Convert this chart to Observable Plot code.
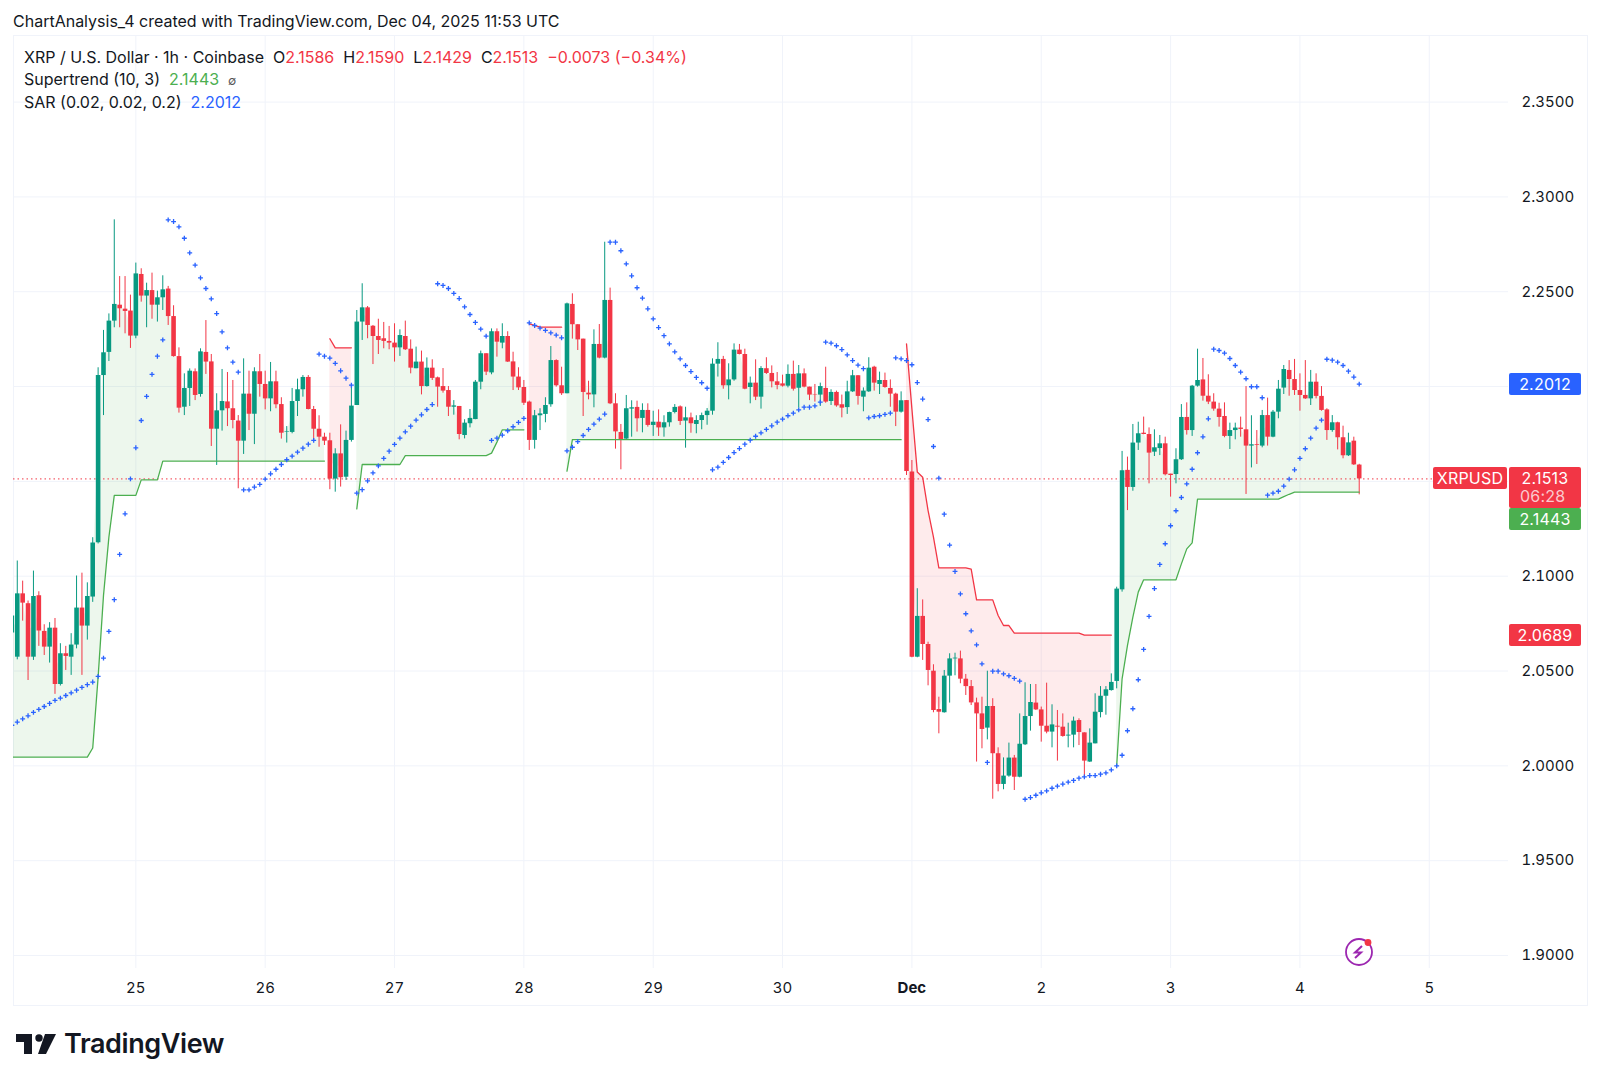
<!DOCTYPE html>
<html><head><meta charset="utf-8">
<script src="https://cdn.jsdelivr.net/npm/d3@7"></script>
<script src="https://cdn.jsdelivr.net/npm/@observablehq/plot@0.6"></script>
<style>
html,body{margin:0;background:#fff}
#page{position:relative;width:1600px;height:1084px;overflow:hidden;font-family:Inter,Roboto,sans-serif;color:#131722}
#frame{position:absolute;left:13px;top:35px;width:1573px;height:969px;border:1px solid #f0f3fa}
#chart{position:absolute;left:0;top:0}
.t{position:absolute;white-space:pre;font-size:16px;line-height:20px}
.tag{position:absolute;color:#fff;border-radius:2px;font-size:16px;line-height:22px;text-align:center;box-sizing:border-box;letter-spacing:.2px}
.logo{position:absolute;left:16px;top:1034px}
.wm{position:absolute;left:64px;top:1026px;font-size:27px;font-weight:600;line-height:36px;letter-spacing:-.4px;color:#131722}
.bolt{position:absolute;left:1343px;top:936px}
</style></head><body>
<div id="page">
<div id="frame"></div>
<div id="chart"></div>
<div class="t" style="left:13px;top:11px">ChartAnalysis_4 created with TradingView.com, Dec 04, 2025 11:53 UTC</div>
<div class="t" style="left:24px;top:47px">XRP / U.S. Dollar · 1h · Coinbase  O<span style="color:#f23645">2.1586</span>  H<span style="color:#f23645">2.1590</span>  L<span style="color:#f23645">2.1429</span>  C<span style="color:#f23645">2.1513</span>  <span style="color:#f23645">−0.0073 (−0.34%)</span></div>
<div class="t" style="left:24px;top:69px">Supertrend (10, 3)  <span style="color:#4caf50">2.1443</span>  <span style="color:#555;font-size:12px">∅</span></div>
<div class="t" style="left:24px;top:92px">SAR (0.02, 0.02, 0.2)  <span style="color:#2962ff">2.2012</span></div>
<svg class="logo" width="40" height="21" viewBox="0 0 40 21"><path d="M0 0H16V20H8V8H0Z M29 0H40L30 20H22Z" fill="#131722"/><circle cx="23" cy="4" r="3.7" fill="#131722"/></svg>
<div class="wm">TradingView</div>
<svg class="bolt" width="32" height="32" viewBox="0 0 32 32"><circle cx="16" cy="16" r="13" fill="#fff" stroke="#9c27b0" stroke-width="1.8"/><path d="M19 10L12 16.5H18L12 22" fill="none" stroke="#9c27b0" stroke-width="2"/><circle cx="25" cy="6.5" r="3.4" fill="#f23645"/></svg>
</div>
<script>
// Hourly candles, Nov 24 01:00 UTC to Dec 4 11:00 UTC
const firstHour = Date.UTC(2025, 10, 24, 1);
const open = [
2.0700,2.0573,2.0907,2.0855,2.0573,2.0897,2.0709,2.0626,2.0726,2.0429,2.0591,2.0573,2.0637,2.0832,2.0737,2.0890,2.1176,2.2058,2.2180,2.2345,2.2429,2.2408,2.2398,
2.2266,2.2591,2.2477,2.2506,2.2429,2.2468,2.2514,2.2369,2.2158,2.1891,2.1990,2.2078,2.1958,2.2180,2.2130,2.1775,2.1872,2.1919,2.1883,2.1818,2.1712,2.1960,2.1854,2.2078,
2.2011,2.1935,2.2025,2.1905,2.1760,2.1758,2.1921,2.1983,2.2048,2.1879,2.1775,2.1733,2.1714,2.1512,2.1645,2.1522,2.1716,2.1900,2.2340,2.2415,2.2318,2.2264,2.2252,2.2238,
2.2229,2.2204,2.2264,2.2197,2.2094,2.2129,2.2000,2.2097,2.2046,2.2000,2.1979,2.1891,2.1895,2.1742,2.1804,2.1826,2.2023,2.2173,2.2072,2.2289,2.2229,2.2264,2.2130,2.2050,
2.1995,2.1918,2.1716,2.1846,2.1853,2.1904,2.2137,2.2004,2.1962,2.2433,2.2326,2.2250,2.1965,2.1956,2.2222,2.2150,2.2454,2.1909,2.1758,2.1723,2.1881,2.1890,2.1832,2.1874,
2.1795,2.1812,2.1782,2.1809,2.1863,2.1893,2.1818,2.1835,2.1800,2.1821,2.1847,2.1870,2.2118,2.2143,2.2004,2.2035,2.2192,2.2169,2.1995,2.2018,2.1944,2.2094,2.2069,2.2025,
2.2014,2.2002,2.2064,2.1991,2.2067,2.1997,2.1958,2.1955,2.1990,2.1921,2.1969,2.1904,2.1889,2.1972,2.2057,2.1944,2.1972,2.2102,2.2011,2.2032,2.1990,2.1960,2.1865,2.1926,
2.1549,2.0573,2.0788,2.0640,2.0499,2.0297,2.0280,2.0473,2.0564,2.0564,2.0457,2.0418,2.0332,2.0274,2.0199,2.0313,2.0064,1.9902,1.9946,2.0041,1.9940,2.0111,2.0260,2.0331,
2.0295,2.0209,2.0178,2.0209,2.0204,2.0157,2.0162,2.0239,2.0174,2.0020,2.0116,2.0281,2.0367,2.0397,2.0445,2.0928,2.1558,2.1468,2.1702,2.1754,2.1747,2.1654,2.1673,2.1698,
2.1538,2.1536,2.1614,2.1837,2.1768,2.2002,2.2035,2.1949,2.1918,2.1881,2.1842,2.1737,2.1768,2.1781,2.1772,2.1686,2.1693,2.1686,2.1847,2.1733,2.1865,2.1992,2.2085,2.2037,
2.1979,2.1953,2.1935,2.2023,2.1948,2.1877,2.1768,2.1809,2.1730,2.1635,2.1712,2.1586];
const high = [
2.0800,2.1080,2.0974,2.0869,2.1027,2.0918,2.0744,2.0755,2.0777,2.0644,2.0630,2.0697,2.1001,2.1016,2.0965,2.1203,2.2099,2.2296,2.2383,2.2879,2.2580,2.2580,2.2482,
2.2651,2.2621,2.2545,2.2598,2.2503,2.2584,2.2528,2.2426,2.2204,2.2067,2.2093,2.2093,2.2199,2.2348,2.2169,2.1962,2.2090,2.2074,2.2032,2.1847,2.2146,2.2081,2.2099,2.2169,
2.2081,2.2127,2.2081,2.1941,2.1789,2.1990,2.2039,2.2058,2.2058,2.1895,2.1846,2.1754,2.1754,2.1672,2.1798,2.1765,2.2011,2.2401,2.2542,2.2422,2.2322,2.2355,2.2338,2.2317,
2.2331,2.2299,2.2345,2.2246,2.2208,2.2187,2.2151,2.2141,2.2050,2.2095,2.2000,2.1926,2.1895,2.1825,2.1879,2.2032,2.2187,2.2173,2.2304,2.2304,2.2331,2.2289,2.2181,2.2099,
2.2032,2.1923,2.1874,2.1883,2.1941,2.2211,2.2141,2.2102,2.2440,2.2489,2.2326,2.2250,2.2028,2.2299,2.2327,2.2761,2.2519,2.1962,2.1800,2.1953,2.1925,2.1923,2.1909,2.1909,
2.1870,2.1877,2.1846,2.1865,2.1905,2.1898,2.1891,2.1860,2.1846,2.1860,2.1884,2.2146,2.2231,2.2159,2.2120,2.2225,2.2222,2.2197,2.2050,2.2141,2.2105,2.2152,2.2109,2.2074,
2.2060,2.2114,2.2134,2.2111,2.2093,2.1997,2.2011,2.2018,2.2102,2.1983,2.1976,2.1955,2.2028,2.2085,2.2058,2.1993,2.2152,2.2107,2.2076,2.2071,2.2035,2.1965,2.1972,2.1926,
2.1610,2.0934,2.0875,2.0652,2.0533,2.0362,2.0503,2.0591,2.0594,2.0605,2.0482,2.0450,2.0357,2.0362,2.0499,2.0354,2.0095,2.0042,2.0120,2.0055,2.0274,2.0438,2.0429,2.0429,
2.0310,2.0436,2.0322,2.0292,2.0274,2.0225,2.0257,2.0248,2.0174,2.0195,2.0380,2.0418,2.0418,2.0485,2.0942,2.1658,2.1628,2.1800,2.1812,2.1839,2.1782,2.1772,2.1742,2.1733,
2.1538,2.1672,2.1905,2.1914,2.2006,2.2197,2.2148,2.2062,2.1962,2.1912,2.1914,2.1807,2.1807,2.1839,2.2000,2.1846,2.1768,2.1874,2.1939,2.1874,2.2032,2.2111,2.2137,2.2143,
2.2067,2.2137,2.2085,2.2067,2.2000,2.1883,2.1847,2.1812,2.1791,2.1754,2.1733,2.1590];
const low = [
2.0690,2.0559,2.0763,2.0450,2.0556,2.0630,2.0582,2.0542,2.0377,2.0421,2.0503,2.0477,2.0617,2.0477,2.0663,2.0862,2.1170,2.1847,2.2132,2.2310,2.2310,2.2278,2.2201,
2.2252,2.2445,2.2310,2.2355,2.2340,2.2401,2.2322,2.2155,2.1860,2.1847,2.1895,2.1926,2.1944,2.2064,2.1684,2.1584,2.1765,2.1789,2.1777,2.1461,2.1642,2.1768,2.1694,2.1944,
2.1877,2.1867,2.1883,2.1723,2.1702,2.1751,2.1842,2.1944,2.1877,2.1712,2.1680,2.1689,2.1456,2.1443,2.1470,2.1505,2.1707,2.1900,2.2243,2.2252,2.2116,2.2169,2.2199,2.2194,
2.2129,2.2159,2.2190,2.2067,2.2094,2.1956,2.1997,2.2032,2.1891,2.1965,2.1842,2.1849,2.1719,2.1724,2.1782,2.1825,2.1983,2.2058,2.2062,2.2155,2.2199,2.2127,2.1979,2.1979,
2.1900,2.1663,2.1670,2.1768,2.1809,2.1891,2.1997,2.1953,2.1962,2.2250,2.2190,2.1842,2.1930,2.1888,2.2146,2.2146,2.1905,2.1670,2.1561,2.1719,2.1733,2.1760,2.1756,2.1786,
2.1737,2.1737,2.1733,2.1786,2.1856,2.1795,2.1675,2.1754,2.1751,2.1772,2.1796,2.1849,2.2050,2.1986,2.1930,2.2028,2.2167,2.1983,2.1909,2.1926,2.1881,2.2064,2.1993,2.1983,
2.1997,2.1993,2.1976,2.1886,2.1993,2.1926,2.1918,2.1895,2.1912,2.1900,2.1891,2.1835,2.1853,2.1969,2.1902,2.1867,2.1969,2.1976,2.1958,2.1991,2.1891,2.1789,2.1860,2.1531,
2.0570,2.0570,2.0556,2.0422,2.0280,2.0169,2.0278,2.0331,2.0475,2.0433,2.0371,2.0318,2.0020,2.0090,2.0137,1.9824,1.9863,1.9874,1.9940,1.9870,1.9937,2.0107,2.0183,2.0292,
2.0125,2.0169,2.0095,2.0025,2.0151,2.0095,2.0095,2.0107,1.9944,2.0018,2.0116,2.0253,2.0267,2.0394,2.0406,2.0916,2.1346,2.1448,2.1663,2.1746,2.1487,2.1631,2.1636,2.1529,
2.1417,2.1487,2.1610,2.1744,2.1737,2.1997,2.1923,2.1905,2.1870,2.1786,2.1730,2.1668,2.1719,2.1733,2.1431,2.1571,2.1589,2.1677,2.1686,2.1730,2.1830,2.1958,2.1949,2.1953,
2.1870,2.1932,2.1900,2.1935,2.1870,2.1716,2.1759,2.1666,2.1619,2.1631,2.1584,2.1429];
const close = [
2.0790,2.0907,2.0858,2.0573,2.0893,2.0711,2.0626,2.0726,2.0429,2.0591,2.0577,2.0637,2.0832,2.0737,2.0893,2.1175,2.2058,2.2178,2.2345,2.2433,2.2410,2.2396,2.2266,
2.2594,2.2477,2.2506,2.2429,2.2468,2.2510,2.2369,2.2158,2.1886,2.1990,2.2081,2.1953,2.2183,2.2129,2.1775,2.1872,2.1921,2.1883,2.1821,2.1712,2.1960,2.1854,2.2078,2.2011,
2.1935,2.2025,2.1904,2.1754,2.1763,2.1921,2.1983,2.2048,2.1879,2.1775,2.1733,2.1712,2.1512,2.1645,2.1519,2.1716,2.1897,2.2340,2.2415,2.2322,2.2264,2.2243,2.2238,2.2229,
2.2204,2.2269,2.2194,2.2097,2.2129,2.2000,2.2097,2.2043,2.1997,2.1976,2.1891,2.1898,2.1747,2.1807,2.1832,2.2023,2.2173,2.2076,2.2289,2.2234,2.2264,2.2129,2.2050,2.1993,
2.1912,2.1716,2.1846,2.1856,2.1900,2.2137,2.2004,2.1962,2.2436,2.2326,2.2246,2.1969,2.1956,2.2222,2.2150,2.2454,2.1909,2.1761,2.1719,2.1883,2.1888,2.1830,2.1874,2.1795,
2.1812,2.1782,2.1809,2.1863,2.1890,2.1816,2.1835,2.1804,2.1821,2.1847,2.1870,2.2118,2.2143,2.2004,2.2035,2.2192,2.2169,2.1986,2.2018,2.1944,2.2095,2.2069,2.2025,2.2006,
2.2002,2.2064,2.1986,2.2067,2.1997,2.1955,2.1956,2.2000,2.1918,2.1969,2.1898,2.1886,2.1972,2.2057,2.1948,2.1976,2.2097,2.2018,2.2032,2.1995,2.1960,2.1865,2.1925,2.1552,
2.0573,2.0788,2.0640,2.0503,2.0292,2.0283,2.0473,2.0564,2.0568,2.0457,2.0418,2.0332,2.0274,2.0192,2.0313,2.0064,1.9902,1.9946,2.0041,1.9940,2.0114,2.0260,2.0334,2.0295,
2.0209,2.0178,2.0216,2.0204,2.0155,2.0162,2.0236,2.0176,2.0025,2.0120,2.0283,2.0367,2.0401,2.0440,2.0932,2.1556,2.1468,2.1702,2.1751,2.1747,2.1649,2.1677,2.1698,2.1535,
2.1531,2.1614,2.1837,2.1768,2.2002,2.2032,2.1949,2.1918,2.1881,2.1837,2.1737,2.1768,2.1781,2.1774,2.1686,2.1693,2.1689,2.1847,2.1733,2.1865,2.1986,2.2090,2.2037,2.1979,
2.1953,2.1935,2.2023,2.1948,2.1874,2.1768,2.1809,2.1730,2.1635,2.1703,2.1587,2.1513];
const supertrend = [
2.0046,2.0046,2.0046,2.0046,2.0046,2.0046,2.0046,2.0046,2.0046,2.0046,2.0046,2.0046,2.0046,2.0046,2.0046,2.0094,2.0468,2.0899,2.1206,2.1426,2.1426,2.1426,2.1426,
2.1426,2.1508,2.1508,2.1508,2.1508,2.1607,2.1607,2.1607,2.1607,2.1607,2.1607,2.1607,2.1607,2.1607,2.1607,2.1607,2.1607,2.1607,2.1607,2.1607,2.1607,2.1607,2.1607,2.1607,
2.1607,2.1607,2.1607,2.1607,2.1607,2.1607,2.1607,2.1607,2.1607,2.1607,2.1607,2.1607,2.2252,2.2204,2.2204,2.2204,2.2204,2.1355,2.1589,2.1589,2.1589,2.1589,2.1589,2.1589,
2.1589,2.1589,2.1636,2.1636,2.1636,2.1636,2.1636,2.1636,2.1636,2.1636,2.1636,2.1636,2.1636,2.1636,2.1636,2.1636,2.1636,2.1636,2.1649,2.1707,2.1772,2.1772,2.1772,2.1772,
2.1772,2.2331,2.2322,2.2313,2.2313,2.2313,2.2313,2.2313,2.1554,2.1720,2.1720,2.1720,2.1720,2.1720,2.1720,2.1720,2.1720,2.1720,2.1720,2.1720,2.1720,2.1720,2.1720,2.1720,
2.1720,2.1720,2.1720,2.1720,2.1720,2.1720,2.1720,2.1720,2.1720,2.1720,2.1720,2.1720,2.1720,2.1720,2.1720,2.1720,2.1720,2.1720,2.1720,2.1720,2.1720,2.1720,2.1720,2.1720,
2.1720,2.1720,2.1720,2.1720,2.1720,2.1720,2.1720,2.1720,2.1720,2.1720,2.1720,2.1720,2.1720,2.1720,2.1720,2.1720,2.1720,2.1720,2.1720,2.1720,2.1720,2.1720,2.1720,2.2225,
2.1882,2.1549,2.1522,2.1346,2.1206,2.1044,2.1044,2.1044,2.1044,2.1044,2.1044,2.1037,2.0875,2.0875,2.0875,2.0875,2.0793,2.0740,2.0740,2.0700,2.0700,2.0700,2.0700,2.0700,
2.0700,2.0700,2.0700,2.0700,2.0700,2.0700,2.0700,2.0700,2.0689,2.0689,2.0689,2.0689,2.0689,2.0689,2.0002,2.0459,2.0635,2.0784,2.0916,2.0981,2.0981,2.0981,2.0981,2.0981,
2.0981,2.0981,2.1065,2.1144,2.1176,2.1406,2.1406,2.1406,2.1406,2.1406,2.1406,2.1406,2.1406,2.1406,2.1406,2.1406,2.1406,2.1406,2.1406,2.1406,2.1406,2.1420,2.1432,2.1443,
2.1443,2.1443,2.1443,2.1443,2.1443,2.1443,2.1443,2.1443,2.1443,2.1443,2.1443,2.1443];
const sar = [
2.0214,2.0231,2.0248,2.0264,2.0282,2.0298,2.0313,2.0329,2.0345,2.0357,2.0371,2.0385,2.0399,2.0414,2.0428,2.0442,2.0472,2.0568,2.0709,2.0876,2.1115,2.1329,2.1513,
2.1677,2.1821,2.1948,2.2064,2.2160,2.2246,2.2879,2.2870,2.2842,2.2782,2.2705,2.2640,2.2573,2.2517,2.2462,2.2385,2.2288,2.2204,2.2129,2.2076,2.1455,2.1455,2.1470,2.1484,
2.1512,2.1540,2.1564,2.1589,2.1614,2.1633,2.1654,2.1675,2.1696,2.1716,2.2171,2.2160,2.2150,2.2122,2.2083,2.2044,2.2007,2.1438,2.1456,2.1503,2.1545,2.1582,2.1621,2.1659,
2.1695,2.1728,2.1761,2.1791,2.1823,2.1851,2.1879,2.1905,2.2542,2.2533,2.2517,2.2491,2.2464,2.2420,2.2380,2.2338,2.2303,2.2266,2.1716,2.1728,2.1744,2.1767,2.1788,2.1811,
2.1832,2.2336,2.2322,2.2308,2.2296,2.2283,2.2271,2.2257,2.1661,2.1680,2.1710,2.1742,2.1774,2.1802,2.1828,2.1855,2.2761,2.2761,2.2716,2.2647,2.2584,2.2521,2.2466,2.2410,
2.2357,2.2311,2.2268,2.2225,2.2183,2.2146,2.2111,2.2079,2.2048,2.2020,2.1991,2.1561,2.1575,2.1600,2.1626,2.1652,2.1673,2.1696,2.1717,2.1738,2.1756,2.1774,2.1793,2.1812,
2.1828,2.1846,2.1860,2.1877,2.1891,2.1891,2.1898,2.1918,2.2234,2.2229,2.2215,2.2195,2.2167,2.2137,2.2113,2.2094,2.1835,2.1842,2.1846,2.1853,2.1860,2.2151,2.2146,2.2137,
2.2115,2.2021,2.1934,2.1826,2.1684,2.1517,2.1327,2.1164,2.1025,2.0907,2.0802,2.0712,2.0638,2.0538,2.0018,2.0499,2.0499,2.0485,2.0475,2.0461,2.0447,1.9824,1.9833,1.9845,
1.9858,1.9868,1.9882,1.9893,1.9904,1.9914,1.9923,1.9935,1.9942,1.9949,1.9949,1.9956,1.9963,1.9979,2.0000,2.0056,2.0185,2.0301,2.0454,2.0614,2.0788,2.0935,2.1062,2.1171,
2.1266,2.1345,2.1415,2.1487,2.1564,2.1651,2.1735,2.1830,2.2197,2.2190,2.2176,2.2148,2.2111,2.2076,2.2041,2.1999,2.1999,2.1941,2.1427,2.1438,2.1448,2.1475,2.1512,2.1561,
2.1621,2.1672,2.1728,2.1781,2.1823,2.2144,2.2139,2.2129,2.2111,2.2081,2.2050,2.2013];
// candle indexes at which the supertrend flips side (the series starts bullish)
const trendFlips = [59, 64, 96, 103, 166, 205];
const priceGrid = [1.9,1.95,2.0,2.05,2.1,2.15,2.2,2.25,2.3,2.35];
const priceLabels = [1.9,1.95,2.0,2.05,2.1,2.25,2.3,2.35];
const dayTicks = [[2025,10,25,"25"],[2025,10,26,"26"],[2025,10,27,"27"],[2025,10,28,"28"],[2025,10,29,"29"],[2025,10,30,"30"],[2025,11,2,"2"],[2025,11,3,"3"],[2025,11,4,"4"],[2025,11,5,"5"]];
const monthTick = [2025,11,1,"Dec"];
const lastPrice = 2.1513, supertrendLast = 2.1443, sarLast = 2.2012, supertrendBear = 2.0689;

const C = {up:"#089981", down:"#f23645", stUp:"#4caf50", sar:"#2962ff", grid:"#f0f3fa"};
const H = 3600000;
const toDate = d => new Date(Date.UTC(d[0],d[1],d[2]));
const candles = open.map((o,i)=>{
  const seg = trendFlips.filter(f=>f<=i).length;
  return {t:new Date(firstHour+i*H), o, h:high[i], l:low[i], c:close[i], st:supertrend[i], sar:sar[i], mid:(o+close[i])/2, seg, bull:seg%2===0};
});
const labelOf = new Map(dayTicks.map(d=>[+toDate(d),d[3]]));
const xDomain = [new Date(Date.UTC(2025,10,25)-22.7*H), new Date(Date.UTC(2025,10,25)+254.7*H)];
const clip = true;
const up = candles.filter(d=>d.c>=d.o), dn = candles.filter(d=>d.c<d.o);
const bull = candles.filter(d=>d.bull), bear = candles.filter(d=>!d.bull);

const plot = Plot.plot({
  width:1600, height:1084, marginLeft:13, marginRight:92, marginTop:35, marginBottom:116,
  style:{fontFamily:"Inter,Roboto,sans-serif", fontSize:"15px", background:"transparent", color:"#131722", overflow:"visible"},
  x:{type:"utc", domain:xDomain},
  y:{domain:[1.89315,2.3851]},
  marks:[
    Plot.gridX([...dayTicks,monthTick].map(toDate),{stroke:C.grid,strokeOpacity:1}),
    Plot.gridY(priceGrid,{stroke:C.grid,strokeOpacity:1}),
    Plot.axisY({anchor:"right",ticks:priceLabels,tickFormat:d=>d.toFixed(4),tickSize:0,tickPadding:13,label:null,fill:"#131722"}),
    Plot.axisX({ticks:dayTicks.map(toDate),tickFormat:d=>labelOf.get(+d),tickSize:0,tickPadding:14,label:null,fill:"#131722"}),
    Plot.axisX({ticks:[toDate(monthTick)],tickFormat:()=>monthTick[3],tickSize:0,tickPadding:14,label:null,fill:"#131722",fontWeight:"bold"}),
    Plot.areaY(bull,{x:"t",y1:"st",y2:"mid",z:"seg",fill:C.stUp,fillOpacity:0.1,curve:"linear",clip}),
    Plot.areaY(bear,{x:"t",y1:"st",y2:"mid",z:"seg",fill:C.down,fillOpacity:0.1,curve:"linear",clip}),
    Plot.ruleY([lastPrice],{x1:xDomain[0],x2:new Date(Date.UTC(2025,10,25)+240.7*H),stroke:C.down,strokeWidth:1,strokeDasharray:"1.5,3"}),
    Plot.ruleX(up,{x:"t",y1:"l",y2:"h",stroke:C.up,strokeWidth:1,clip}),
    Plot.ruleX(dn,{x:"t",y1:"l",y2:"h",stroke:C.down,strokeWidth:1,clip}),
    Plot.ruleX(up,{x:"t",y1:"o",y2:"c",stroke:C.up,strokeWidth:4.6,clip}),
    Plot.ruleX(dn,{x:"t",y1:"o",y2:"c",stroke:C.down,strokeWidth:4.6,clip}),
    Plot.line(bull,{x:"t",y:"st",z:"seg",stroke:C.stUp,strokeWidth:1.3,clip}),
    Plot.line(bear,{x:"t",y:"st",z:"seg",stroke:C.down,strokeWidth:1.3,clip}),
    Plot.dot(candles,{x:"t",y:"sar",symbol:"plus",r:1.7,stroke:C.sar,strokeWidth:1.3,clip})
  ]
});
document.getElementById("chart").append(plot);

// price-scale tags, placed through the chart's y scale
const yS = plot.scale("y");
const page = document.getElementById("page");
function tag(html,left,width,price,height,bg,shift){
  const el=document.createElement("div"); el.className="tag"; el.innerHTML=html;
  el.style.cssText=`left:${left}px;width:${width}px;height:${height}px;top:${yS.apply(price)-11+(shift||0)}px;background:${bg}`;
  page.append(el);
}
tag(sarLast.toFixed(4),1509,72,sarLast,22,C.sar);
tag(supertrendBear.toFixed(4),1509,72,supertrendBear,22,C.down);
tag(lastPrice.toFixed(4)+'<div style="margin-top:-3px;line-height:20px;color:#fbc9ce;text-align:left;padding-left:11px">06:28</div>',1509,72,lastPrice,41,C.down,-0.7);
tag(supertrendLast.toFixed(4),1509,72,supertrendLast,22,C.stUp,27);
tag("XRPUSD",1433,74,lastPrice,22,C.down,-0.7);
</script>
</body></html>
